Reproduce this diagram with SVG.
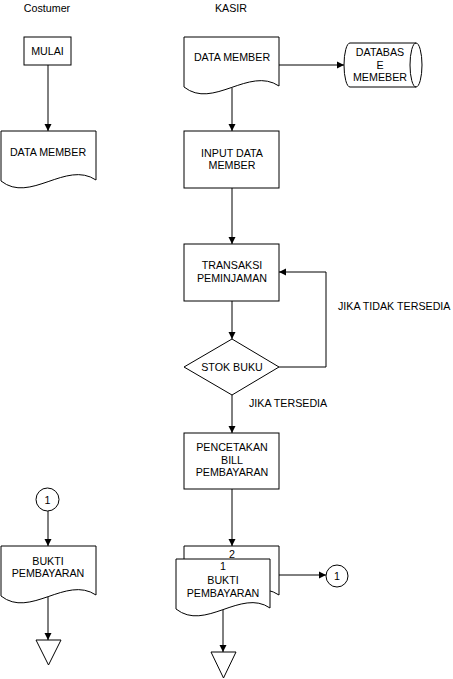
<svg xmlns="http://www.w3.org/2000/svg" width="453" height="679" viewBox="0 0 453 679">
<style>
.s{fill:#fff;stroke:#000;stroke-width:1}
.c{fill:none;stroke:#000;stroke-width:1}
text{font-family:"Liberation Sans",Arial,sans-serif;font-size:10.7px;fill:#000;text-anchor:middle}
.l{text-anchor:start}
</style>
<defs>
<marker id="ah" markerWidth="8" markerHeight="8" refX="7" refY="4" orient="auto" markerUnits="userSpaceOnUse">
<path d="M0,0.5 L7,4 L0,7.5 Z" fill="#000"/>
</marker>
</defs>
<rect width="453" height="679" fill="#fff"/>
<text x="47" y="12">Costumer</text>
<text x="231" y="12">KASIR</text>
<g id="connectors">
<path class="c" d="M48,65 V131" marker-end="url(#ah)"/>
<path class="c" d="M279,65 H344" marker-end="url(#ah)"/>
<path class="c" d="M232,88 V131" marker-end="url(#ah)"/>
<path class="c" d="M232,188 V244" marker-end="url(#ah)"/>
<path class="c" d="M232,301 V339" marker-end="url(#ah)"/>
<path class="c" d="M279,367 H326 V272 H279" marker-end="url(#ah)"/>
<path class="c" d="M232,395 V433" marker-end="url(#ah)"/>
<path class="c" d="M232,489 V546" marker-end="url(#ah)"/>
<path class="c" d="M279,575 H326" marker-end="url(#ah)"/>
<path class="c" d="M223,610 V652" marker-end="url(#ah)"/>
<path class="c" d="M48,511 V546" marker-end="url(#ah)"/>
<path class="c" d="M48,597 V640" marker-end="url(#ah)"/>
<text class="l" x="338" y="310">JIKA TIDAK TERSEDIA</text>
<text class="l" x="249" y="407">JIKA TERSEDIA</text>
</g>
<g id="mulai">
<rect class="s" x="24" y="37" width="47" height="28"/>
<text x="47.5" y="54.5">MULAI</text>
</g>
<g id="doc-member-cust">
<path class="s" d="M1,131 H96 V180 C66,160 30,204 1,181 Z"/>
<text x="48" y="156">DATA MEMBER</text>
</g>
<g id="doc-member-kasir">
<path class="s" d="M184,37 H279 V86 C249,66 213,110 184,87 Z"/>
<text x="232" y="61">DATA MEMBER</text>
</g>
<g id="database">
<path class="s" d="M350,43 H416 A6,22 0 0 1 416,87 H350 A6,22 0 0 1 350,43 Z"/>
<path class="c" d="M416,43 A6,22 0 0 0 416,87"/>
<text x="380" y="56">DATABAS</text>
<text x="380" y="68.5">E</text>
<text x="380" y="81">MEMEBER</text>
</g>
<g id="input">
<rect class="s" x="184" y="131" width="95" height="57"/>
<text x="232" y="157">INPUT DATA</text>
<text x="232" y="169">MEMBER</text>
</g>
<g id="transaksi">
<rect class="s" x="184" y="244" width="95" height="57"/>
<text x="232" y="269">TRANSAKSI</text>
<text x="232" y="282">PEMINJAMAN</text>
</g>
<g id="stok">
<path class="s" d="M232,339 L279,367 L232,395 L184,367 Z"/>
<text x="232" y="371">STOK BUKU</text>
</g>
<g id="pencetakan">
<rect class="s" x="184" y="433" width="95" height="56"/>
<text x="232" y="451">PENCETAKAN</text>
<text x="232" y="463.5">BILL</text>
<text x="232" y="476">PEMBAYARAN</text>
</g>
<g id="bukti-kasir">
<path class="s" d="M184,546 H279 V595 C249,575 213,619 184,596 Z"/>
<text x="232" y="558">2</text>
<path class="s" d="M176,559 H270 V608 C241,588 205,632 176,609 Z"/>
<text x="223" y="570">1</text>
<text x="223" y="584">BUKTI</text>
<text x="223" y="597">PEMBAYARAN</text>
</g>
<g id="conn-right">
<circle class="s" cx="337" cy="576" r="11"/>
<text x="337" y="580">1</text>
</g>
<g id="end-right">
<path class="s" d="M211,652 H236 L223.5,678 Z"/>
</g>
<g id="conn-left">
<circle class="s" cx="47.5" cy="499.5" r="11.5"/>
<text x="47.5" y="503.5">1</text>
</g>
<g id="bukti-cust">
<path class="s" d="M1,546 H96 V595 C66,575 30,619 1,596 Z"/>
<text x="48" y="565">BUKTI</text>
<text x="48" y="577">PEMBAYARAN</text>
</g>
<g id="end-left">
<path class="s" d="M36,640 H61 L48.5,665 Z"/>
</g>
</svg>
